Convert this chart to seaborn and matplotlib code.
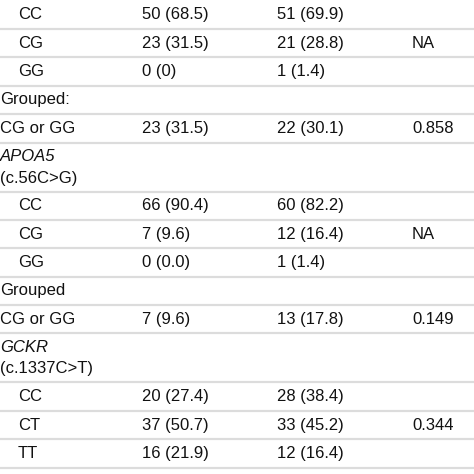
import matplotlib
matplotlib.use("Agg")
import matplotlib.pyplot as plt
import seaborn as sns
import numpy as np

sns.set_theme(style="white")
plt.rcParams["font.family"] = ["Liberation Sans", "DejaVu Sans"]

# table content
labels = ["CC", "CG", "GG", "Grouped:", "CG or GG", "APOA5\n(c.56C>G)",
          "CC", "CG", "GG", "Grouped", "CG or GG", "GCKR\n(c.1337C>T)",
          "CC", "CT", "TT"]
indented = [1, 1, 1, 0, 0, 0, 1, 1, 1, 0, 0, 0, 1, 1, 1]
italic_head = [0, 0, 0, 0, 0, 1, 0, 0, 0, 0, 0, 1, 0, 0, 0]
group_a = ["50 (68.5)", "23 (31.5)", "0 (0)", "", "23 (31.5)", "",
           "66 (90.4)", "7 (9.6)", "0 (0.0)", "", "7 (9.6)", "",
           "20 (27.4)", "37 (50.7)", "16 (21.9)"]
group_b = ["51 (69.9)", "21 (28.8)", "1 (1.4)", "", "22 (30.1)", "",
           "60 (82.2)", "12 (16.4)", "1 (1.4)", "", "13 (17.8)", "",
           "28 (38.4)", "33 (45.2)", "12 (16.4)"]
p_vals = ["", "NA", "", "", "0.858", "", "", "NA", "", "", "0.149", "",
          "", "0.344", ""]

row_h = [49 if "\n" in l else 28.4 for l in labels]
bounds = np.concatenate([[0.5], 0.5 + np.cumsum(row_h)])

fig = plt.figure(figsize=(4.74, 4.74), dpi=100)
ax = fig.add_axes([0, 0, 1, 1])
ax.set_xlim(0, 474)
ax.set_ylim(474, 0)
ax.axis("off")

fs = 12
col = "#111111"
for i, lab in enumerate(labels):
    yc = (bounds[i] + bounds[i + 1]) / 2
    x0 = 18 if indented[i] else 0
    if "\n" in lab:
        top, bot = lab.split("\n")
        ax.text(x0, yc - 10.5, top, fontsize=fs, color=col, va="center",
                style="italic" if italic_head[i] else "normal")
        ax.text(x0, yc + 11, bot, fontsize=fs, color=col, va="center")
    else:
        ax.text(x0, yc, lab, fontsize=fs, color=col, va="center")
    ax.text(142, yc, group_a[i], fontsize=fs, color=col, va="center")
    ax.text(277, yc, group_b[i], fontsize=fs, color=col, va="center")
    ax.text(412, yc, p_vals[i], fontsize=fs, color=col, va="center")

ax.hlines(bounds[1:], 0, 474, color="#dcdcdc", lw=1.6)

fig.savefig("out.png", dpi=100)
